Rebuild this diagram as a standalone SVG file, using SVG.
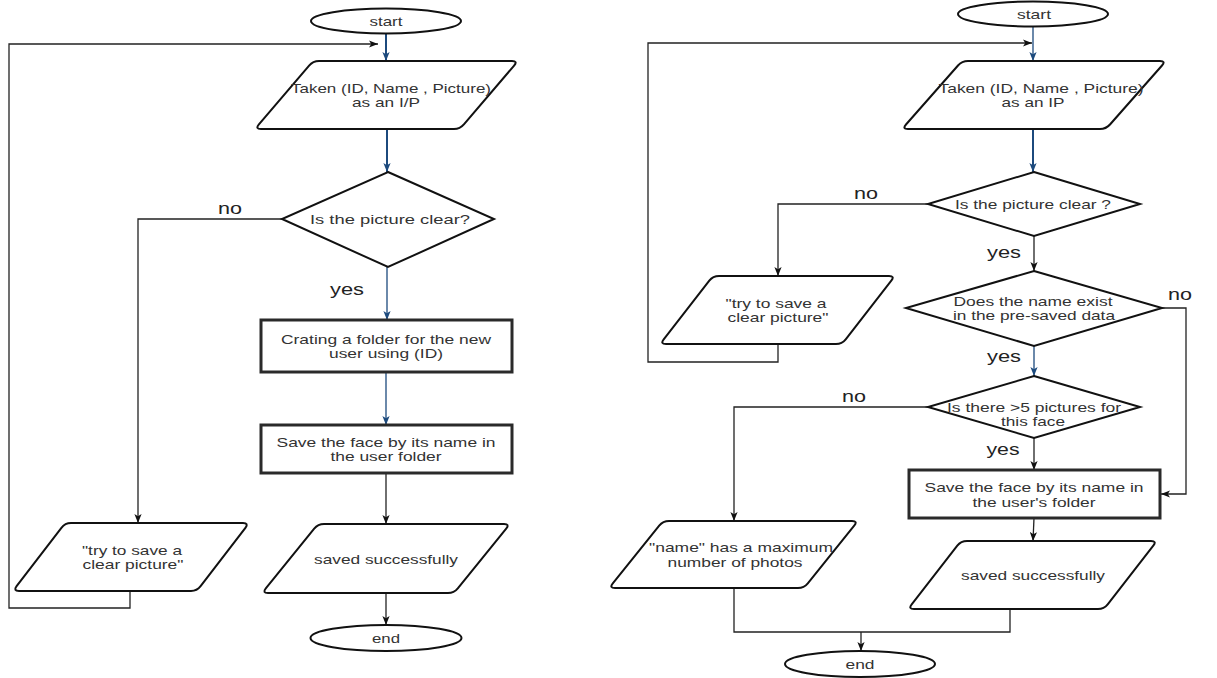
<svg xmlns="http://www.w3.org/2000/svg" width="1217" height="678" viewBox="0 0 1217 678">
<defs>
<marker id="ab" viewBox="0 0 10 8" refX="10" refY="4" markerWidth="9" markerHeight="7.5" markerUnits="userSpaceOnUse" orient="auto"><path d="M0,0 L10,4 L0,8 L2.5,4 Z" fill="#111"/></marker>
<marker id="au" viewBox="0 0 10 8" refX="10" refY="4" markerWidth="9" markerHeight="7.5" markerUnits="userSpaceOnUse" orient="auto"><path d="M0,0 L10,4 L0,8 L2.5,4 Z" fill="#1c4a7d"/></marker>
<style>
.sh{fill:#fff;stroke:#111;stroke-width:2}
.rc{fill:#fff;stroke:#2a2a2a;stroke-width:3}
.c{fill:none;stroke:#222;stroke-width:1.3}
.cb{fill:none;stroke:#1c4a7d;stroke-width:1.3}
.cbt{fill:none;stroke:#1c4a7d;stroke-width:2}
.t{font-family:"Liberation Sans",Arial,sans-serif;font-size:13px;fill:#333;text-anchor:middle}
.l{font-family:"Liberation Sans",Arial,sans-serif;font-size:17px;fill:#222;text-anchor:middle}
</style>
</defs>
<rect width="1217" height="678" fill="#fff"/>

<g id="connectors">
<!-- left -->
<path class="cbt" d="M386,34 L386,61" marker-end="url(#au)"/>
<path class="c" d="M130,591 L130,608 L9,608 L9,44 L378,44" marker-end="url(#ab)"/>
<path class="cbt" d="M387,129 L387,172" marker-end="url(#au)"/>
<path class="c" d="M282,219 L138,219 L138,523" marker-end="url(#ab)"/>
<path class="cb" d="M387,267 L387,320" marker-end="url(#au)"/>
<path class="cb" d="M386,372 L386,425" marker-end="url(#au)"/>
<path class="c" d="M386,473 L386,524" marker-end="url(#ab)"/>
<path class="c" d="M386,593 L386,625" marker-end="url(#ab)"/>
<!-- right -->
<path class="cb" d="M1033,27 L1033,61" marker-end="url(#au)"/>
<path class="c" d="M778,344 L778,362 L648,362 L648,43 L1032,43" marker-end="url(#ab)"/>
<path class="cbt" d="M1033,129 L1033,172" marker-end="url(#au)"/>
<path class="c" d="M928,204 L778,204 L778,276" marker-end="url(#ab)"/>
<path class="c" d="M1034,236 L1034,271" marker-end="url(#ab)"/>
<path class="c" d="M1162,308 L1186,308 L1186,494 L1161,494" marker-end="url(#ab)"/>
<path class="cb" d="M1034,346 L1034,376" marker-end="url(#au)"/>
<path class="c" d="M928,407 L734,407 L734,521" marker-end="url(#ab)"/>
<path class="c" d="M1034,438 L1034,470" marker-end="url(#ab)"/>
<path class="c" d="M1034,518 L1033,541" marker-end="url(#ab)"/>
<path class="c" d="M734,588 L734,632 L1010,632 L1010,609"/>
<path class="c" d="M861,632 L861,651" marker-end="url(#ab)"/>
<text class="l" x="230" y="214" textLength="24" lengthAdjust="spacingAndGlyphs">no</text>
<text class="l" x="347" y="295" textLength="34" lengthAdjust="spacingAndGlyphs">yes</text>
<text class="l" x="866" y="199" textLength="24" lengthAdjust="spacingAndGlyphs">no</text>
<text class="l" x="1004" y="258" textLength="34" lengthAdjust="spacingAndGlyphs">yes</text>
<text class="l" x="1180" y="300" textLength="24" lengthAdjust="spacingAndGlyphs">no</text>
<text class="l" x="1004" y="362" textLength="34" lengthAdjust="spacingAndGlyphs">yes</text>
<text class="l" x="854" y="402" textLength="24" lengthAdjust="spacingAndGlyphs">no</text>
<text class="l" x="1003" y="455" textLength="33" lengthAdjust="spacingAndGlyphs">yes</text>
</g>

<!-- LEFT FLOW -->
<g id="l-start">
<ellipse class="sh" cx="386" cy="21" rx="75" ry="12.5"/>
<text class="t" x="386" y="25.5" textLength="33" lengthAdjust="spacingAndGlyphs">start</text>
</g>
<g id="l-input">
<path class="sh" d="M319,61 L512,61 Q518,61 514.1,65.6 L463.9,124.4 Q460,129 454,129 L261,129 Q255,129 258.9,124.4 L309.1,65.6 Q313,61 319,61 Z"/>
<text class="t" x="391" y="92.5" textLength="200" lengthAdjust="spacingAndGlyphs">Taken (ID, Name , Picture)</text>
<text class="t" x="386" y="106.5" textLength="68" lengthAdjust="spacingAndGlyphs">as an I/P</text>
</g>
<g id="l-clear">
<polygon class="sh" points="388,172 494,219 388,267 282,219"/>
<text class="t" x="390" y="223.5" textLength="160" lengthAdjust="spacingAndGlyphs">Is the picture clear?</text>
</g>
<g id="l-folder">
<rect class="rc" x="261" y="320" width="251" height="52"/>
<text class="t" x="386" y="343.5" textLength="210" lengthAdjust="spacingAndGlyphs">Crating a folder for the new</text>
<text class="t" x="386" y="357.5" textLength="114" lengthAdjust="spacingAndGlyphs">user using (ID)</text>
</g>
<g id="l-save">
<rect class="rc" x="261" y="425" width="251" height="48"/>
<text class="t" x="386" y="446.5" textLength="219" lengthAdjust="spacingAndGlyphs">Save the face by its name in</text>
<text class="t" x="386" y="460.5" textLength="111" lengthAdjust="spacingAndGlyphs">the user folder</text>
</g>
<g id="l-saved">
<path class="sh" d="M324,524 L504,524 Q510,524 506.2,528.7 L457.8,588.3 Q454,593 448,593 L268,593 Q262,593 265.8,588.3 L314.2,528.7 Q318,524 324,524 Z"/>
<text class="t" x="386" y="563.5" textLength="144" lengthAdjust="spacingAndGlyphs">saved successfully</text>
</g>
<g id="l-end">
<ellipse class="sh" cx="386" cy="638" rx="75.5" ry="13"/>
<text class="t" x="386" y="642.5" textLength="28" lengthAdjust="spacingAndGlyphs">end</text>
</g>
<g id="l-retry">
<path class="sh" d="M71,523 L243,523 Q249,523 245.4,527.8 L200.6,586.2 Q197,591 191,591 L19,591 Q13,591 16.6,586.2 L61.4,527.8 Q65,523 71,523 Z"/>
<text class="t" x="132" y="554.5" textLength="100" lengthAdjust="spacingAndGlyphs">"try to save a</text>
<text class="t" x="133" y="568.5" textLength="101" lengthAdjust="spacingAndGlyphs">clear picture"</text>
</g>

<!-- RIGHT FLOW -->
<g id="r-start">
<ellipse class="sh" cx="1033" cy="14" rx="75" ry="12.5"/>
<text class="t" x="1034" y="18.5" textLength="34" lengthAdjust="spacingAndGlyphs">start</text>
</g>
<g id="r-input">
<path class="sh" d="M968,61 L1160,61 Q1166,61 1162,65.5 L1110,124.5 Q1106,129 1100,129 L908,129 Q902,129 906,124.5 L958,65.5 Q962,61 968,61 Z"/>
<text class="t" x="1041" y="92.5" textLength="205" lengthAdjust="spacingAndGlyphs">Taken (ID, Name , Picture)</text>
<text class="t" x="1033" y="106.5" textLength="63" lengthAdjust="spacingAndGlyphs">as an IP</text>
</g>
<g id="r-clear">
<polygon class="sh" points="1034,172 1140,204 1034,236 928,204"/>
<text class="t" x="1033" y="208.5" textLength="156" lengthAdjust="spacingAndGlyphs">Is the picture clear ?</text>
</g>
<g id="r-retry">
<path class="sh" d="M719,276 L889,276 Q895,276 891.3,280.7 L845.7,339.3 Q842,344 836,344 L666,344 Q660,344 663.7,339.3 L709.3,280.7 Q713,276 719,276 Z"/>
<text class="t" x="776" y="307.5" textLength="101" lengthAdjust="spacingAndGlyphs">"try to save a</text>
<text class="t" x="778" y="321.5" textLength="101" lengthAdjust="spacingAndGlyphs">clear picture"</text>
</g>
<g id="r-exists">
<polygon class="sh" points="1034,271 1162,308 1034,346 906,308"/>
<text class="t" x="1033" y="305.5" textLength="159" lengthAdjust="spacingAndGlyphs">Does the name exist</text>
<text class="t" x="1034" y="319.5" textLength="162" lengthAdjust="spacingAndGlyphs">in the pre-saved data</text>
</g>
<g id="r-count">
<polygon class="sh" points="1034,376 1140,407 1034,438 928,407"/>
<text class="t" x="1034" y="411.5" textLength="174" lengthAdjust="spacingAndGlyphs">Is there &gt;5 pictures for</text>
<text class="t" x="1033" y="425.5" textLength="64" lengthAdjust="spacingAndGlyphs">this face</text>
</g>
<g id="r-save">
<rect class="rc" x="909" y="470" width="251" height="48"/>
<text class="t" x="1034" y="491.5" textLength="219" lengthAdjust="spacingAndGlyphs">Save the face by its name in</text>
<text class="t" x="1034" y="506.5" textLength="123" lengthAdjust="spacingAndGlyphs">the user's folder</text>
</g>
<g id="r-saved">
<path class="sh" d="M967,541 L1151,541 Q1157,541 1153.3,545.7 L1107.7,604.3 Q1104,609 1098,609 L914,609 Q908,609 911.7,604.3 L957.3,545.7 Q961,541 967,541 Z"/>
<text class="t" x="1033" y="579.5" textLength="144" lengthAdjust="spacingAndGlyphs">saved successfully</text>
</g>
<g id="r-max">
<path class="sh" d="M669,521 L852,521 Q858,521 854.2,525.7 L807.8,583.3 Q804,588 798,588 L615,588 Q609,588 612.8,583.3 L659.2,525.7 Q663,521 669,521 Z"/>
<text class="t" x="741" y="551.5" textLength="184" lengthAdjust="spacingAndGlyphs">"name" has a maximum</text>
<text class="t" x="735" y="566.5" textLength="135" lengthAdjust="spacingAndGlyphs">number of photos</text>
</g>
<g id="r-end">
<ellipse class="sh" cx="860" cy="664" rx="75" ry="13"/>
<text class="t" x="860" y="668.5" textLength="29" lengthAdjust="spacingAndGlyphs">end</text>
</g>
</svg>
